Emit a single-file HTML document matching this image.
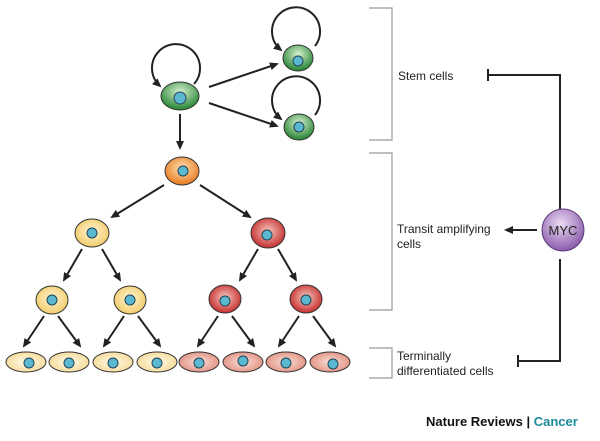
<!DOCTYPE html><html><head><style>body{margin:0;background:#fff}svg{display:block}text{font-family:"Liberation Sans",sans-serif}</style></head><body>
<svg width="600" height="441" viewBox="0 0 600 441">
<defs>
<marker id="a" markerWidth="10" markerHeight="10" refX="7" refY="5" orient="auto" markerUnits="userSpaceOnUse"><path d="M0,1 L9,5 L0,9 z" fill="#222"/></marker>
<radialGradient id="g" cx="50%" cy="35%" r="60%"><stop offset="0" stop-color="#d8f0d0"/><stop offset="1" stop-color="#2e8a3a"/></radialGradient>
<radialGradient id="o" cx="50%" cy="40%" r="60%"><stop offset="0" stop-color="#fde0b0"/><stop offset="1" stop-color="#e87a20"/></radialGradient>
<radialGradient id="y" cx="50%" cy="45%" r="60%"><stop offset="0" stop-color="#fff6d8"/><stop offset="1" stop-color="#f2c860"/></radialGradient>
<radialGradient id="r" cx="50%" cy="45%" r="60%"><stop offset="0" stop-color="#f8c8c0"/><stop offset="1" stop-color="#c02020"/></radialGradient>
<radialGradient id="py" cx="50%" cy="50%" r="60%"><stop offset="0" stop-color="#fffaea"/><stop offset="1" stop-color="#f5d890"/></radialGradient>
<radialGradient id="pr" cx="50%" cy="50%" r="60%"><stop offset="0" stop-color="#fbe0d8"/><stop offset="1" stop-color="#de8878"/></radialGradient>
<radialGradient id="m" cx="45%" cy="35%" r="65%"><stop offset="0" stop-color="#eadcf4"/><stop offset="1" stop-color="#8a5aaa"/></radialGradient>
</defs>
<g fill="none" stroke="#222" stroke-width="2">
<path d="M194,84 A24,24 0 1 0 160,86" marker-end="url(#a)"/>
<path d="M315,46 A24,24 0 1 0 281,50" marker-end="url(#a)"/>
<path d="M315,115 A24,24 0 1 0 281,119" marker-end="url(#a)"/>
<line x1="209" y1="87" x2="277" y2="64" marker-end="url(#a)"/>
<line x1="209" y1="103" x2="277" y2="126" marker-end="url(#a)"/>
<line x1="180" y1="114" x2="180" y2="148" marker-end="url(#a)"/>
<line x1="164" y1="185" x2="112" y2="217" marker-end="url(#a)"/>
<line x1="200" y1="185" x2="250" y2="217" marker-end="url(#a)"/>
<line x1="82" y1="249" x2="64" y2="280" marker-end="url(#a)"/>
<line x1="102" y1="249" x2="120" y2="280" marker-end="url(#a)"/>
<line x1="258" y1="249" x2="240" y2="280" marker-end="url(#a)"/>
<line x1="278" y1="249" x2="296" y2="280" marker-end="url(#a)"/>
<line x1="44" y1="316" x2="24" y2="346" marker-end="url(#a)"/><line x1="58" y1="316" x2="80" y2="346" marker-end="url(#a)"/>
<line x1="124" y1="316" x2="104" y2="346" marker-end="url(#a)"/><line x1="138" y1="316" x2="160" y2="346" marker-end="url(#a)"/>
<line x1="218" y1="316" x2="198" y2="346" marker-end="url(#a)"/><line x1="232" y1="316" x2="254" y2="346" marker-end="url(#a)"/>
<line x1="299" y1="316" x2="279" y2="346" marker-end="url(#a)"/><line x1="313" y1="316" x2="335" y2="346" marker-end="url(#a)"/>
</g>
<g stroke="#333" stroke-width="1">
<ellipse cx="180" cy="96" rx="19" ry="14" fill="url(#g)"/>
<ellipse cx="298" cy="58" rx="15" ry="13" fill="url(#g)"/>
<ellipse cx="299" cy="127" rx="15" ry="13" fill="url(#g)"/>
<ellipse cx="182" cy="171" rx="17" ry="14" fill="url(#o)"/>
<ellipse cx="92" cy="233" rx="17" ry="14" fill="url(#y)"/>
<ellipse cx="268" cy="233" rx="17" ry="15" fill="url(#r)"/>
<ellipse cx="52" cy="300" rx="16" ry="14" fill="url(#y)"/>
<ellipse cx="130" cy="300" rx="16" ry="14" fill="url(#y)"/>
<ellipse cx="225" cy="299" rx="16" ry="14" fill="url(#r)"/>
<ellipse cx="306" cy="299" rx="16" ry="14" fill="url(#r)"/>
<ellipse cx="26" cy="362" rx="20" ry="10" fill="url(#py)"/><ellipse cx="69" cy="362" rx="20" ry="10" fill="url(#py)"/>
<ellipse cx="113" cy="362" rx="20" ry="10" fill="url(#py)"/><ellipse cx="157" cy="362" rx="20" ry="10" fill="url(#py)"/>
<ellipse cx="199" cy="362" rx="20" ry="10" fill="url(#pr)"/><ellipse cx="243" cy="362" rx="20" ry="10" fill="url(#pr)"/>
<ellipse cx="286" cy="362" rx="20" ry="10" fill="url(#pr)"/><ellipse cx="330" cy="362" rx="20" ry="10" fill="url(#pr)"/>
<g fill="#5ab8d0" stroke="#245">
<circle cx="180" cy="98" r="6"/><circle cx="298" cy="61" r="5"/><circle cx="299" cy="127" r="5"/><circle cx="183" cy="171" r="5"/>
<circle cx="92" cy="233" r="5"/><circle cx="267" cy="235" r="5"/><circle cx="52" cy="300" r="5"/><circle cx="130" cy="300" r="5"/>
<circle cx="225" cy="301" r="5"/><circle cx="306" cy="300" r="5"/>
<circle cx="29" cy="363" r="5"/><circle cx="69" cy="363" r="5"/><circle cx="113" cy="363" r="5"/><circle cx="157" cy="363" r="5"/>
<circle cx="199" cy="363" r="5"/><circle cx="243" cy="361" r="5"/><circle cx="286" cy="363" r="5"/><circle cx="333" cy="364" r="5"/>
</g></g>
<g fill="none" stroke="#999" stroke-width="1.2">
<path d="M369,8 H392 V140 H369"/><path d="M369,153 H392 V310 H369"/><path d="M369,348 H392 V378 H369"/>
</g>
<g fill="none" stroke="#222" stroke-width="2">
<path d="M560,210 V75 H489"/><line x1="488" y1="69" x2="488" y2="81"/>
<line x1="537" y1="230" x2="506" y2="230" marker-end="url(#a)"/>
<path d="M560,259 V361 H519"/><line x1="518" y1="355" x2="518" y2="367"/>
</g>
<circle cx="563" cy="230" r="21" fill="url(#m)" stroke="#5a3a7a"/>
<text x="563" y="235" font-size="13" text-anchor="middle" fill="#222">MYC</text>
<g font-size="12" fill="#222">
<text x="398" y="80">Stem cells</text>
<text x="397" y="233">Transit amplifying</text><text x="397" y="248">cells</text>
<text x="397" y="360">Terminally</text><text x="397" y="375">differentiated cells</text>
</g>
<text x="426" y="426" font-size="13" font-weight="bold" fill="#111">Nature Reviews <tspan fill="#111">|</tspan> <tspan fill="#1a8a9a">Cancer</tspan></text>
</svg></body></html>
